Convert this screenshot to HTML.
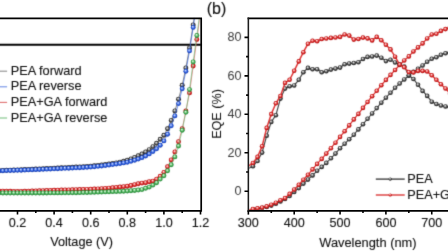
<!DOCTYPE html><html><head><meta charset="utf-8"><style>html,body{margin:0;padding:0;background:#fff;}svg{display:block;}text{font-family:"Liberation Sans",Arial,sans-serif;fill:#111;stroke:#111;stroke-width:0.12px;}</style></head><body><svg width="448" height="252" viewBox="0 0 448 252"><defs><radialGradient id="gk" cx="0.5" cy="0.5" r="0.5" fx="0.40" fy="0.32"><stop offset="0" stop-color="#ffffff"/><stop offset="0.25" stop-color="#bdbdbd"/><stop offset="0.62" stop-color="#4a4a4a"/><stop offset="1" stop-color="#181818"/></radialGradient><radialGradient id="gb" cx="0.5" cy="0.5" r="0.5" fx="0.40" fy="0.32"><stop offset="0" stop-color="#f6f8ff"/><stop offset="0.25" stop-color="#9ab4f6"/><stop offset="0.62" stop-color="#2c5ee0"/><stop offset="1" stop-color="#1236aa"/></radialGradient><radialGradient id="gr" cx="0.5" cy="0.5" r="0.5" fx="0.40" fy="0.32"><stop offset="0" stop-color="#fff6f6"/><stop offset="0.25" stop-color="#f5aaaa"/><stop offset="0.62" stop-color="#dc2828"/><stop offset="1" stop-color="#a80a0a"/></radialGradient><radialGradient id="gg" cx="0.5" cy="0.5" r="0.5" fx="0.40" fy="0.32"><stop offset="0" stop-color="#f6fff6"/><stop offset="0.25" stop-color="#b8e4bc"/><stop offset="0.62" stop-color="#44b054"/><stop offset="1" stop-color="#217c32"/></radialGradient><clipPath id="ca"><rect x="-30" y="18.2" width="231" height="192.2"/></clipPath><clipPath id="cb"><rect x="248.3" y="18.2" width="230" height="192.2"/></clipPath><filter id="soft" x="0" y="0" width="448" height="252" filterUnits="userSpaceOnUse" color-interpolation-filters="sRGB"><feConvolveMatrix order="3" kernelMatrix="1 6 1 6 36 6 1 6 1" divisor="64" edgeMode="duplicate"/></filter></defs><g filter="url(#soft)"><rect width="448" height="252" fill="#fff"/><path d="M-5,44.75 H201.2" stroke="#000" stroke-width="1.90"/><g clip-path="url(#ca)"><path d="M-19.10,171.00 L-15.44,170.91 L-11.78,170.82 L-8.12,170.72 L-4.46,170.61 L-0.80,170.50 L2.86,170.38 L6.52,170.25 L10.18,170.12 L13.84,169.98 L17.50,169.84 L21.16,169.69 L24.82,169.53 L28.48,169.38 L32.14,169.21 L35.80,169.05 L39.46,168.88 L43.12,168.71 L46.78,168.53 L50.44,168.35 L54.10,168.17 L57.76,167.99 L61.42,167.81 L65.08,167.63 L68.74,167.45 L72.40,167.26 L76.06,167.06 L79.72,166.85 L83.38,166.62 L87.04,166.38 L90.70,166.10 L94.36,165.78 L98.02,165.40 L101.68,164.98 L105.34,164.51 L109.00,164.00 L112.66,163.45 L116.32,162.84 L119.98,162.13 L123.64,161.30 L127.30,160.24 L130.96,158.93 L134.62,157.43 L138.28,155.80 L141.94,154.01 L145.60,151.96 L149.26,149.60 L152.92,146.60 L156.58,143.30 L160.24,139.30 L163.90,135.30 L167.56,128.80 L171.22,120.40 L174.88,110.90 L178.54,99.20 L182.20,85.30 L185.86,67.90 L189.52,47.90 L193.18,24.90 L196.84,-1.00 L200.50,-28.00" fill="none" stroke="#555555" stroke-width="0.7"/><circle cx="-19.10" cy="171.00" r="2.45" fill="url(#gk)"/><circle cx="-15.44" cy="170.91" r="2.45" fill="url(#gk)"/><circle cx="-11.78" cy="170.82" r="2.45" fill="url(#gk)"/><circle cx="-8.12" cy="170.72" r="2.45" fill="url(#gk)"/><circle cx="-4.46" cy="170.61" r="2.45" fill="url(#gk)"/><circle cx="-0.80" cy="170.50" r="2.45" fill="url(#gk)"/><circle cx="2.86" cy="170.38" r="2.45" fill="url(#gk)"/><circle cx="6.52" cy="170.25" r="2.45" fill="url(#gk)"/><circle cx="10.18" cy="170.12" r="2.45" fill="url(#gk)"/><circle cx="13.84" cy="169.98" r="2.45" fill="url(#gk)"/><circle cx="17.50" cy="169.84" r="2.45" fill="url(#gk)"/><circle cx="21.16" cy="169.69" r="2.45" fill="url(#gk)"/><circle cx="24.82" cy="169.53" r="2.45" fill="url(#gk)"/><circle cx="28.48" cy="169.38" r="2.45" fill="url(#gk)"/><circle cx="32.14" cy="169.21" r="2.45" fill="url(#gk)"/><circle cx="35.80" cy="169.05" r="2.45" fill="url(#gk)"/><circle cx="39.46" cy="168.88" r="2.45" fill="url(#gk)"/><circle cx="43.12" cy="168.71" r="2.45" fill="url(#gk)"/><circle cx="46.78" cy="168.53" r="2.45" fill="url(#gk)"/><circle cx="50.44" cy="168.35" r="2.45" fill="url(#gk)"/><circle cx="54.10" cy="168.17" r="2.45" fill="url(#gk)"/><circle cx="57.76" cy="167.99" r="2.45" fill="url(#gk)"/><circle cx="61.42" cy="167.81" r="2.45" fill="url(#gk)"/><circle cx="65.08" cy="167.63" r="2.45" fill="url(#gk)"/><circle cx="68.74" cy="167.45" r="2.45" fill="url(#gk)"/><circle cx="72.40" cy="167.26" r="2.45" fill="url(#gk)"/><circle cx="76.06" cy="167.06" r="2.45" fill="url(#gk)"/><circle cx="79.72" cy="166.85" r="2.45" fill="url(#gk)"/><circle cx="83.38" cy="166.62" r="2.45" fill="url(#gk)"/><circle cx="87.04" cy="166.38" r="2.45" fill="url(#gk)"/><circle cx="90.70" cy="166.10" r="2.45" fill="url(#gk)"/><circle cx="94.36" cy="165.78" r="2.45" fill="url(#gk)"/><circle cx="98.02" cy="165.40" r="2.45" fill="url(#gk)"/><circle cx="101.68" cy="164.98" r="2.45" fill="url(#gk)"/><circle cx="105.34" cy="164.51" r="2.45" fill="url(#gk)"/><circle cx="109.00" cy="164.00" r="2.45" fill="url(#gk)"/><circle cx="112.66" cy="163.45" r="2.45" fill="url(#gk)"/><circle cx="116.32" cy="162.84" r="2.45" fill="url(#gk)"/><circle cx="119.98" cy="162.13" r="2.45" fill="url(#gk)"/><circle cx="123.64" cy="161.30" r="2.45" fill="url(#gk)"/><circle cx="127.30" cy="160.24" r="2.45" fill="url(#gk)"/><circle cx="130.96" cy="158.93" r="2.45" fill="url(#gk)"/><circle cx="134.62" cy="157.43" r="2.45" fill="url(#gk)"/><circle cx="138.28" cy="155.80" r="2.45" fill="url(#gk)"/><circle cx="141.94" cy="154.01" r="2.45" fill="url(#gk)"/><circle cx="145.60" cy="151.96" r="2.45" fill="url(#gk)"/><circle cx="149.26" cy="149.60" r="2.45" fill="url(#gk)"/><circle cx="152.92" cy="146.60" r="2.45" fill="url(#gk)"/><circle cx="156.58" cy="143.30" r="2.45" fill="url(#gk)"/><circle cx="160.24" cy="139.30" r="2.45" fill="url(#gk)"/><circle cx="163.90" cy="135.30" r="2.45" fill="url(#gk)"/><circle cx="167.56" cy="128.80" r="2.45" fill="url(#gk)"/><circle cx="171.22" cy="120.40" r="2.45" fill="url(#gk)"/><circle cx="174.88" cy="110.90" r="2.45" fill="url(#gk)"/><circle cx="178.54" cy="99.20" r="2.45" fill="url(#gk)"/><circle cx="182.20" cy="85.30" r="2.45" fill="url(#gk)"/><circle cx="185.86" cy="67.90" r="2.45" fill="url(#gk)"/><circle cx="189.52" cy="47.90" r="2.45" fill="url(#gk)"/><circle cx="193.18" cy="24.90" r="2.45" fill="url(#gk)"/><circle cx="196.84" cy="-1.00" r="2.45" fill="url(#gk)"/><circle cx="200.50" cy="-28.00" r="2.45" fill="url(#gk)"/><path d="M-19.10,171.20 L-15.44,171.13 L-11.78,171.05 L-8.12,170.97 L-4.46,170.89 L-0.80,170.80 L2.86,170.71 L6.52,170.62 L10.18,170.52 L13.84,170.41 L17.50,170.30 L21.16,170.18 L24.82,170.05 L28.48,169.92 L32.14,169.78 L35.80,169.63 L39.46,169.48 L43.12,169.33 L46.78,169.17 L50.44,169.01 L54.10,168.85 L57.76,168.68 L61.42,168.52 L65.08,168.36 L68.74,168.20 L72.40,168.03 L76.06,167.86 L79.72,167.68 L83.38,167.47 L87.04,167.25 L90.70,167.00 L94.36,166.70 L98.02,166.34 L101.68,165.94 L105.34,165.49 L109.00,165.01 L112.66,164.51 L116.32,164.00 L119.98,163.48 L123.64,162.89 L127.30,162.20 L130.96,161.31 L134.62,160.22 L138.28,159.00 L141.94,157.63 L145.60,156.00 L149.26,153.92 L152.92,151.50 L156.58,148.80 L160.24,145.20 L163.90,140.90 L167.56,134.20 L171.22,125.80 L174.88,115.90 L178.54,103.60 L182.20,88.80 L185.86,71.20 L189.52,50.90 L193.18,27.40 L196.84,2.00 L200.50,-25.00" fill="none" stroke="#3a66dd" stroke-width="0.7"/><circle cx="-19.10" cy="171.20" r="2.45" fill="url(#gb)"/><circle cx="-15.44" cy="171.13" r="2.45" fill="url(#gb)"/><circle cx="-11.78" cy="171.05" r="2.45" fill="url(#gb)"/><circle cx="-8.12" cy="170.97" r="2.45" fill="url(#gb)"/><circle cx="-4.46" cy="170.89" r="2.45" fill="url(#gb)"/><circle cx="-0.80" cy="170.80" r="2.45" fill="url(#gb)"/><circle cx="2.86" cy="170.71" r="2.45" fill="url(#gb)"/><circle cx="6.52" cy="170.62" r="2.45" fill="url(#gb)"/><circle cx="10.18" cy="170.52" r="2.45" fill="url(#gb)"/><circle cx="13.84" cy="170.41" r="2.45" fill="url(#gb)"/><circle cx="17.50" cy="170.30" r="2.45" fill="url(#gb)"/><circle cx="21.16" cy="170.18" r="2.45" fill="url(#gb)"/><circle cx="24.82" cy="170.05" r="2.45" fill="url(#gb)"/><circle cx="28.48" cy="169.92" r="2.45" fill="url(#gb)"/><circle cx="32.14" cy="169.78" r="2.45" fill="url(#gb)"/><circle cx="35.80" cy="169.63" r="2.45" fill="url(#gb)"/><circle cx="39.46" cy="169.48" r="2.45" fill="url(#gb)"/><circle cx="43.12" cy="169.33" r="2.45" fill="url(#gb)"/><circle cx="46.78" cy="169.17" r="2.45" fill="url(#gb)"/><circle cx="50.44" cy="169.01" r="2.45" fill="url(#gb)"/><circle cx="54.10" cy="168.85" r="2.45" fill="url(#gb)"/><circle cx="57.76" cy="168.68" r="2.45" fill="url(#gb)"/><circle cx="61.42" cy="168.52" r="2.45" fill="url(#gb)"/><circle cx="65.08" cy="168.36" r="2.45" fill="url(#gb)"/><circle cx="68.74" cy="168.20" r="2.45" fill="url(#gb)"/><circle cx="72.40" cy="168.03" r="2.45" fill="url(#gb)"/><circle cx="76.06" cy="167.86" r="2.45" fill="url(#gb)"/><circle cx="79.72" cy="167.68" r="2.45" fill="url(#gb)"/><circle cx="83.38" cy="167.47" r="2.45" fill="url(#gb)"/><circle cx="87.04" cy="167.25" r="2.45" fill="url(#gb)"/><circle cx="90.70" cy="167.00" r="2.45" fill="url(#gb)"/><circle cx="94.36" cy="166.70" r="2.45" fill="url(#gb)"/><circle cx="98.02" cy="166.34" r="2.45" fill="url(#gb)"/><circle cx="101.68" cy="165.94" r="2.45" fill="url(#gb)"/><circle cx="105.34" cy="165.49" r="2.45" fill="url(#gb)"/><circle cx="109.00" cy="165.01" r="2.45" fill="url(#gb)"/><circle cx="112.66" cy="164.51" r="2.45" fill="url(#gb)"/><circle cx="116.32" cy="164.00" r="2.45" fill="url(#gb)"/><circle cx="119.98" cy="163.48" r="2.45" fill="url(#gb)"/><circle cx="123.64" cy="162.89" r="2.45" fill="url(#gb)"/><circle cx="127.30" cy="162.20" r="2.45" fill="url(#gb)"/><circle cx="130.96" cy="161.31" r="2.45" fill="url(#gb)"/><circle cx="134.62" cy="160.22" r="2.45" fill="url(#gb)"/><circle cx="138.28" cy="159.00" r="2.45" fill="url(#gb)"/><circle cx="141.94" cy="157.63" r="2.45" fill="url(#gb)"/><circle cx="145.60" cy="156.00" r="2.45" fill="url(#gb)"/><circle cx="149.26" cy="153.92" r="2.45" fill="url(#gb)"/><circle cx="152.92" cy="151.50" r="2.45" fill="url(#gb)"/><circle cx="156.58" cy="148.80" r="2.45" fill="url(#gb)"/><circle cx="160.24" cy="145.20" r="2.45" fill="url(#gb)"/><circle cx="163.90" cy="140.90" r="2.45" fill="url(#gb)"/><circle cx="167.56" cy="134.20" r="2.45" fill="url(#gb)"/><circle cx="171.22" cy="125.80" r="2.45" fill="url(#gb)"/><circle cx="174.88" cy="115.90" r="2.45" fill="url(#gb)"/><circle cx="178.54" cy="103.60" r="2.45" fill="url(#gb)"/><circle cx="182.20" cy="88.80" r="2.45" fill="url(#gb)"/><circle cx="185.86" cy="71.20" r="2.45" fill="url(#gb)"/><circle cx="189.52" cy="50.90" r="2.45" fill="url(#gb)"/><circle cx="193.18" cy="27.40" r="2.45" fill="url(#gb)"/><circle cx="196.84" cy="2.00" r="2.45" fill="url(#gb)"/><circle cx="200.50" cy="-25.00" r="2.45" fill="url(#gb)"/><path d="M-19.10,191.10 L-15.44,191.10 L-11.78,191.10 L-8.12,191.10 L-4.46,191.10 L-0.80,191.10 L2.86,191.13 L6.52,191.21 L10.18,191.29 L13.84,191.37 L17.50,191.40 L21.16,191.37 L24.82,191.28 L28.48,191.16 L32.14,191.02 L35.80,190.90 L39.46,190.79 L43.12,190.66 L46.78,190.54 L50.44,190.41 L54.10,190.28 L57.76,190.16 L61.42,190.04 L65.08,189.94 L68.74,189.85 L72.40,189.76 L76.06,189.67 L79.72,189.57 L83.38,189.47 L87.04,189.34 L90.70,189.20 L94.36,189.03 L98.02,188.84 L101.68,188.62 L105.34,188.36 L109.00,188.08 L112.66,187.77 L116.32,187.43 L119.98,187.05 L123.64,186.64 L127.30,186.20 L130.96,185.55 L134.62,184.67 L138.28,183.78 L141.94,183.10 L145.60,182.70 L149.26,181.70 L152.92,181.10 L156.58,179.10 L160.24,176.30 L163.90,172.40 L167.56,166.80 L171.22,159.90 L174.88,151.90 L178.54,141.70 L182.20,128.80 L185.86,111.00 L189.52,92.90 L193.18,66.00 L196.84,39.50 L200.50,12.00" fill="none" stroke="#e06060" stroke-width="0.7"/><circle cx="-19.10" cy="191.10" r="2.45" fill="url(#gr)"/><circle cx="-15.44" cy="191.10" r="2.45" fill="url(#gr)"/><circle cx="-11.78" cy="191.10" r="2.45" fill="url(#gr)"/><circle cx="-8.12" cy="191.10" r="2.45" fill="url(#gr)"/><circle cx="-4.46" cy="191.10" r="2.45" fill="url(#gr)"/><circle cx="-0.80" cy="191.10" r="2.45" fill="url(#gr)"/><circle cx="2.86" cy="191.13" r="2.45" fill="url(#gr)"/><circle cx="6.52" cy="191.21" r="2.45" fill="url(#gr)"/><circle cx="10.18" cy="191.29" r="2.45" fill="url(#gr)"/><circle cx="13.84" cy="191.37" r="2.45" fill="url(#gr)"/><circle cx="17.50" cy="191.40" r="2.45" fill="url(#gr)"/><circle cx="21.16" cy="191.37" r="2.45" fill="url(#gr)"/><circle cx="24.82" cy="191.28" r="2.45" fill="url(#gr)"/><circle cx="28.48" cy="191.16" r="2.45" fill="url(#gr)"/><circle cx="32.14" cy="191.02" r="2.45" fill="url(#gr)"/><circle cx="35.80" cy="190.90" r="2.45" fill="url(#gr)"/><circle cx="39.46" cy="190.79" r="2.45" fill="url(#gr)"/><circle cx="43.12" cy="190.66" r="2.45" fill="url(#gr)"/><circle cx="46.78" cy="190.54" r="2.45" fill="url(#gr)"/><circle cx="50.44" cy="190.41" r="2.45" fill="url(#gr)"/><circle cx="54.10" cy="190.28" r="2.45" fill="url(#gr)"/><circle cx="57.76" cy="190.16" r="2.45" fill="url(#gr)"/><circle cx="61.42" cy="190.04" r="2.45" fill="url(#gr)"/><circle cx="65.08" cy="189.94" r="2.45" fill="url(#gr)"/><circle cx="68.74" cy="189.85" r="2.45" fill="url(#gr)"/><circle cx="72.40" cy="189.76" r="2.45" fill="url(#gr)"/><circle cx="76.06" cy="189.67" r="2.45" fill="url(#gr)"/><circle cx="79.72" cy="189.57" r="2.45" fill="url(#gr)"/><circle cx="83.38" cy="189.47" r="2.45" fill="url(#gr)"/><circle cx="87.04" cy="189.34" r="2.45" fill="url(#gr)"/><circle cx="90.70" cy="189.20" r="2.45" fill="url(#gr)"/><circle cx="94.36" cy="189.03" r="2.45" fill="url(#gr)"/><circle cx="98.02" cy="188.84" r="2.45" fill="url(#gr)"/><circle cx="101.68" cy="188.62" r="2.45" fill="url(#gr)"/><circle cx="105.34" cy="188.36" r="2.45" fill="url(#gr)"/><circle cx="109.00" cy="188.08" r="2.45" fill="url(#gr)"/><circle cx="112.66" cy="187.77" r="2.45" fill="url(#gr)"/><circle cx="116.32" cy="187.43" r="2.45" fill="url(#gr)"/><circle cx="119.98" cy="187.05" r="2.45" fill="url(#gr)"/><circle cx="123.64" cy="186.64" r="2.45" fill="url(#gr)"/><circle cx="127.30" cy="186.20" r="2.45" fill="url(#gr)"/><circle cx="130.96" cy="185.55" r="2.45" fill="url(#gr)"/><circle cx="134.62" cy="184.67" r="2.45" fill="url(#gr)"/><circle cx="138.28" cy="183.78" r="2.45" fill="url(#gr)"/><circle cx="141.94" cy="183.10" r="2.45" fill="url(#gr)"/><circle cx="145.60" cy="182.70" r="2.45" fill="url(#gr)"/><circle cx="149.26" cy="181.70" r="2.45" fill="url(#gr)"/><circle cx="152.92" cy="181.10" r="2.45" fill="url(#gr)"/><circle cx="156.58" cy="179.10" r="2.45" fill="url(#gr)"/><circle cx="160.24" cy="176.30" r="2.45" fill="url(#gr)"/><circle cx="163.90" cy="172.40" r="2.45" fill="url(#gr)"/><circle cx="167.56" cy="166.80" r="2.45" fill="url(#gr)"/><circle cx="171.22" cy="159.90" r="2.45" fill="url(#gr)"/><circle cx="174.88" cy="151.90" r="2.45" fill="url(#gr)"/><circle cx="178.54" cy="141.70" r="2.45" fill="url(#gr)"/><circle cx="182.20" cy="128.80" r="2.45" fill="url(#gr)"/><circle cx="185.86" cy="111.00" r="2.45" fill="url(#gr)"/><circle cx="189.52" cy="92.90" r="2.45" fill="url(#gr)"/><circle cx="193.18" cy="66.00" r="2.45" fill="url(#gr)"/><circle cx="196.84" cy="39.50" r="2.45" fill="url(#gr)"/><circle cx="200.50" cy="12.00" r="2.45" fill="url(#gr)"/><path d="M-19.10,193.10 L-15.44,193.08 L-11.78,193.05 L-8.12,193.03 L-4.46,193.01 L-0.80,193.00 L2.86,192.99 L6.52,192.98 L10.18,192.98 L13.84,192.97 L17.50,192.97 L21.16,192.96 L24.82,192.96 L28.48,192.95 L32.14,192.95 L35.80,192.95 L39.46,192.94 L43.12,192.94 L46.78,192.93 L50.44,192.92 L54.10,192.92 L57.76,192.91 L61.42,192.89 L65.08,192.87 L68.74,192.83 L72.40,192.78 L76.06,192.72 L79.72,192.65 L83.38,192.57 L87.04,192.48 L90.70,192.38 L94.36,192.27 L98.02,192.16 L101.68,192.05 L105.34,191.92 L109.00,191.80 L112.66,191.67 L116.32,191.54 L119.98,191.40 L123.64,191.22 L127.30,191.01 L130.96,190.76 L134.62,190.44 L138.28,190.06 L141.94,189.60 L145.60,188.30 L149.26,187.10 L152.92,185.10 L156.58,182.70 L160.24,179.10 L163.90,175.80 L167.56,170.80 L171.22,164.80 L174.88,156.90 L178.54,146.00 L182.20,130.20 L185.86,112.30 L189.52,89.60 L193.18,61.90 L196.84,35.50 L200.50,9.00" fill="none" stroke="#6cbc78" stroke-width="0.7"/><circle cx="-19.10" cy="193.10" r="2.45" fill="url(#gg)"/><circle cx="-15.44" cy="193.08" r="2.45" fill="url(#gg)"/><circle cx="-11.78" cy="193.05" r="2.45" fill="url(#gg)"/><circle cx="-8.12" cy="193.03" r="2.45" fill="url(#gg)"/><circle cx="-4.46" cy="193.01" r="2.45" fill="url(#gg)"/><circle cx="-0.80" cy="193.00" r="2.45" fill="url(#gg)"/><circle cx="2.86" cy="192.99" r="2.45" fill="url(#gg)"/><circle cx="6.52" cy="192.98" r="2.45" fill="url(#gg)"/><circle cx="10.18" cy="192.98" r="2.45" fill="url(#gg)"/><circle cx="13.84" cy="192.97" r="2.45" fill="url(#gg)"/><circle cx="17.50" cy="192.97" r="2.45" fill="url(#gg)"/><circle cx="21.16" cy="192.96" r="2.45" fill="url(#gg)"/><circle cx="24.82" cy="192.96" r="2.45" fill="url(#gg)"/><circle cx="28.48" cy="192.95" r="2.45" fill="url(#gg)"/><circle cx="32.14" cy="192.95" r="2.45" fill="url(#gg)"/><circle cx="35.80" cy="192.95" r="2.45" fill="url(#gg)"/><circle cx="39.46" cy="192.94" r="2.45" fill="url(#gg)"/><circle cx="43.12" cy="192.94" r="2.45" fill="url(#gg)"/><circle cx="46.78" cy="192.93" r="2.45" fill="url(#gg)"/><circle cx="50.44" cy="192.92" r="2.45" fill="url(#gg)"/><circle cx="54.10" cy="192.92" r="2.45" fill="url(#gg)"/><circle cx="57.76" cy="192.91" r="2.45" fill="url(#gg)"/><circle cx="61.42" cy="192.89" r="2.45" fill="url(#gg)"/><circle cx="65.08" cy="192.87" r="2.45" fill="url(#gg)"/><circle cx="68.74" cy="192.83" r="2.45" fill="url(#gg)"/><circle cx="72.40" cy="192.78" r="2.45" fill="url(#gg)"/><circle cx="76.06" cy="192.72" r="2.45" fill="url(#gg)"/><circle cx="79.72" cy="192.65" r="2.45" fill="url(#gg)"/><circle cx="83.38" cy="192.57" r="2.45" fill="url(#gg)"/><circle cx="87.04" cy="192.48" r="2.45" fill="url(#gg)"/><circle cx="90.70" cy="192.38" r="2.45" fill="url(#gg)"/><circle cx="94.36" cy="192.27" r="2.45" fill="url(#gg)"/><circle cx="98.02" cy="192.16" r="2.45" fill="url(#gg)"/><circle cx="101.68" cy="192.05" r="2.45" fill="url(#gg)"/><circle cx="105.34" cy="191.92" r="2.45" fill="url(#gg)"/><circle cx="109.00" cy="191.80" r="2.45" fill="url(#gg)"/><circle cx="112.66" cy="191.67" r="2.45" fill="url(#gg)"/><circle cx="116.32" cy="191.54" r="2.45" fill="url(#gg)"/><circle cx="119.98" cy="191.40" r="2.45" fill="url(#gg)"/><circle cx="123.64" cy="191.22" r="2.45" fill="url(#gg)"/><circle cx="127.30" cy="191.01" r="2.45" fill="url(#gg)"/><circle cx="130.96" cy="190.76" r="2.45" fill="url(#gg)"/><circle cx="134.62" cy="190.44" r="2.45" fill="url(#gg)"/><circle cx="138.28" cy="190.06" r="2.45" fill="url(#gg)"/><circle cx="141.94" cy="189.60" r="2.45" fill="url(#gg)"/><circle cx="145.60" cy="188.30" r="2.45" fill="url(#gg)"/><circle cx="149.26" cy="187.10" r="2.45" fill="url(#gg)"/><circle cx="152.92" cy="185.10" r="2.45" fill="url(#gg)"/><circle cx="156.58" cy="182.70" r="2.45" fill="url(#gg)"/><circle cx="160.24" cy="179.10" r="2.45" fill="url(#gg)"/><circle cx="163.90" cy="175.80" r="2.45" fill="url(#gg)"/><circle cx="167.56" cy="170.80" r="2.45" fill="url(#gg)"/><circle cx="171.22" cy="164.80" r="2.45" fill="url(#gg)"/><circle cx="174.88" cy="156.90" r="2.45" fill="url(#gg)"/><circle cx="178.54" cy="146.00" r="2.45" fill="url(#gg)"/><circle cx="182.20" cy="130.20" r="2.45" fill="url(#gg)"/><circle cx="185.86" cy="112.30" r="2.45" fill="url(#gg)"/><circle cx="189.52" cy="89.60" r="2.45" fill="url(#gg)"/><circle cx="193.18" cy="61.90" r="2.45" fill="url(#gg)"/><circle cx="196.84" cy="35.50" r="2.45" fill="url(#gg)"/><circle cx="200.50" cy="9.00" r="2.45" fill="url(#gg)"/></g><text x="17.50" y="226.6" font-size="12.6" text-anchor="middle">0.2</text><text x="54.10" y="226.6" font-size="12.6" text-anchor="middle">0.4</text><text x="90.70" y="226.6" font-size="12.6" text-anchor="middle">0.6</text><text x="127.30" y="226.6" font-size="12.6" text-anchor="middle">0.8</text><text x="163.90" y="226.6" font-size="12.6" text-anchor="middle">1.0</text><text x="200.50" y="226.6" font-size="12.6" text-anchor="middle">1.2</text><text x="81.6" y="246.2" font-size="12.7" text-anchor="middle">Voltage (V)</text><path d="M-10,71.2 H7.1" stroke="#8c8c8c" stroke-width="1.1"/><text x="10.7" y="74.8" font-size="12.75">PEA forward</text><path d="M-10,86.8 H7.1" stroke="#6f8fe6" stroke-width="1.1"/><text x="10.7" y="90.4" font-size="12.75">PEA reverse</text><path d="M-10,102.4 H7.1" stroke="#e07070" stroke-width="1.1"/><text x="10.7" y="106.0" font-size="12.75">PEA+GA forward</text><path d="M-10,118.0 H7.1" stroke="#7cc486" stroke-width="1.1"/><text x="10.7" y="121.6" font-size="12.75">PEA+GA reverse</text><g clip-path="url(#cb)"><path d="M248.35,210.80 L252.94,209.60 L257.52,208.80 L262.11,208.00 L266.69,207.00 L271.27,205.60 L275.86,203.80 L280.44,201.50 L285.03,199.00 L289.62,196.00 L294.20,192.00 L298.78,188.10 L303.37,183.60 L307.95,179.60 L312.54,175.40 L317.12,170.80 L321.71,166.90 L326.30,162.90 L330.88,158.30 L335.47,153.60 L340.05,148.20 L344.63,143.70 L349.22,139.30 L353.81,134.70 L358.39,129.40 L362.98,124.20 L367.56,118.80 L372.14,113.50 L376.73,108.10 L381.31,102.70 L385.90,97.70 L390.49,92.80 L395.07,87.80 L399.65,83.50 L404.24,79.50 L408.82,75.80 L413.41,71.90 L418.00,68.80 L422.58,65.50 L427.16,61.80 L431.75,58.80 L436.34,57.30 L440.92,54.80 L445.50,53.30 L450.09,52.00 L454.68,51.00 L459.26,50.30 L463.85,49.80 L468.43,49.50 L473.01,49.30 L477.60,49.20" fill="none" stroke="#4a4a4a" stroke-width="1.10"/><circle cx="252.94" cy="209.60" r="2.30" fill="url(#gk)"/><circle cx="257.52" cy="208.80" r="2.30" fill="url(#gk)"/><circle cx="262.11" cy="208.00" r="2.30" fill="url(#gk)"/><circle cx="266.69" cy="207.00" r="2.30" fill="url(#gk)"/><circle cx="271.27" cy="205.60" r="2.30" fill="url(#gk)"/><circle cx="275.86" cy="203.80" r="2.30" fill="url(#gk)"/><circle cx="280.44" cy="201.50" r="2.30" fill="url(#gk)"/><circle cx="285.03" cy="199.00" r="2.30" fill="url(#gk)"/><circle cx="289.62" cy="196.00" r="2.30" fill="url(#gk)"/><circle cx="294.20" cy="192.00" r="2.30" fill="url(#gk)"/><circle cx="298.78" cy="188.10" r="2.30" fill="url(#gk)"/><circle cx="303.37" cy="183.60" r="2.30" fill="url(#gk)"/><circle cx="307.95" cy="179.60" r="2.30" fill="url(#gk)"/><circle cx="312.54" cy="175.40" r="2.30" fill="url(#gk)"/><circle cx="317.12" cy="170.80" r="2.30" fill="url(#gk)"/><circle cx="321.71" cy="166.90" r="2.30" fill="url(#gk)"/><circle cx="326.30" cy="162.90" r="2.30" fill="url(#gk)"/><circle cx="330.88" cy="158.30" r="2.30" fill="url(#gk)"/><circle cx="335.47" cy="153.60" r="2.30" fill="url(#gk)"/><circle cx="340.05" cy="148.20" r="2.30" fill="url(#gk)"/><circle cx="344.63" cy="143.70" r="2.30" fill="url(#gk)"/><circle cx="349.22" cy="139.30" r="2.30" fill="url(#gk)"/><circle cx="353.81" cy="134.70" r="2.30" fill="url(#gk)"/><circle cx="358.39" cy="129.40" r="2.30" fill="url(#gk)"/><circle cx="362.98" cy="124.20" r="2.30" fill="url(#gk)"/><circle cx="367.56" cy="118.80" r="2.30" fill="url(#gk)"/><circle cx="372.14" cy="113.50" r="2.30" fill="url(#gk)"/><circle cx="376.73" cy="108.10" r="2.30" fill="url(#gk)"/><circle cx="381.31" cy="102.70" r="2.30" fill="url(#gk)"/><circle cx="385.90" cy="97.70" r="2.30" fill="url(#gk)"/><circle cx="390.49" cy="92.80" r="2.30" fill="url(#gk)"/><circle cx="395.07" cy="87.80" r="2.30" fill="url(#gk)"/><circle cx="399.65" cy="83.50" r="2.30" fill="url(#gk)"/><circle cx="404.24" cy="79.50" r="2.30" fill="url(#gk)"/><circle cx="408.82" cy="75.80" r="2.30" fill="url(#gk)"/><circle cx="413.41" cy="71.90" r="2.30" fill="url(#gk)"/><circle cx="418.00" cy="68.80" r="2.30" fill="url(#gk)"/><circle cx="422.58" cy="65.50" r="2.30" fill="url(#gk)"/><circle cx="427.16" cy="61.80" r="2.30" fill="url(#gk)"/><circle cx="431.75" cy="58.80" r="2.30" fill="url(#gk)"/><circle cx="436.34" cy="57.30" r="2.30" fill="url(#gk)"/><circle cx="440.92" cy="54.80" r="2.30" fill="url(#gk)"/><circle cx="445.50" cy="53.30" r="2.30" fill="url(#gk)"/><circle cx="450.09" cy="52.00" r="2.30" fill="url(#gk)"/><circle cx="454.68" cy="51.00" r="2.30" fill="url(#gk)"/><circle cx="459.26" cy="50.30" r="2.30" fill="url(#gk)"/><circle cx="463.85" cy="49.80" r="2.30" fill="url(#gk)"/><circle cx="468.43" cy="49.50" r="2.30" fill="url(#gk)"/><circle cx="473.01" cy="49.30" r="2.30" fill="url(#gk)"/><circle cx="477.60" cy="49.20" r="2.30" fill="url(#gk)"/><path d="M248.35,210.20 L252.94,209.00 L257.52,208.20 L262.11,207.60 L266.69,206.40 L271.27,204.70 L275.86,202.70 L280.44,200.20 L285.03,198.10 L289.62,193.90 L294.20,189.60 L298.78,184.80 L303.37,179.70 L307.95,174.80 L312.54,169.40 L317.12,163.90 L321.71,158.90 L326.30,153.60 L330.88,148.20 L335.47,142.70 L340.05,136.90 L344.63,131.30 L349.22,125.40 L353.81,119.40 L358.39,113.90 L362.98,107.90 L367.56,102.00 L372.14,96.20 L376.73,90.80 L381.31,85.20 L385.90,79.90 L390.49,74.90 L395.07,70.00 L399.65,65.00 L404.24,60.50 L408.82,56.40 L413.41,51.50 L418.00,47.40 L422.58,43.40 L427.16,38.50 L431.75,34.50 L436.34,33.80 L440.92,30.90 L445.50,29.10 L450.09,27.20 L454.68,25.50 L459.26,24.50 L463.85,22.80 L468.43,22.30 L473.01,22.00 L477.60,21.80" fill="none" stroke="#e03a3a" stroke-width="1.30"/><circle cx="252.94" cy="209.00" r="2.30" fill="url(#gr)"/><circle cx="257.52" cy="208.20" r="2.30" fill="url(#gr)"/><circle cx="262.11" cy="207.60" r="2.30" fill="url(#gr)"/><circle cx="266.69" cy="206.40" r="2.30" fill="url(#gr)"/><circle cx="271.27" cy="204.70" r="2.30" fill="url(#gr)"/><circle cx="275.86" cy="202.70" r="2.30" fill="url(#gr)"/><circle cx="280.44" cy="200.20" r="2.30" fill="url(#gr)"/><circle cx="285.03" cy="198.10" r="2.30" fill="url(#gr)"/><circle cx="289.62" cy="193.90" r="2.30" fill="url(#gr)"/><circle cx="294.20" cy="189.60" r="2.30" fill="url(#gr)"/><circle cx="298.78" cy="184.80" r="2.30" fill="url(#gr)"/><circle cx="303.37" cy="179.70" r="2.30" fill="url(#gr)"/><circle cx="307.95" cy="174.80" r="2.30" fill="url(#gr)"/><circle cx="312.54" cy="169.40" r="2.30" fill="url(#gr)"/><circle cx="317.12" cy="163.90" r="2.30" fill="url(#gr)"/><circle cx="321.71" cy="158.90" r="2.30" fill="url(#gr)"/><circle cx="326.30" cy="153.60" r="2.30" fill="url(#gr)"/><circle cx="330.88" cy="148.20" r="2.30" fill="url(#gr)"/><circle cx="335.47" cy="142.70" r="2.30" fill="url(#gr)"/><circle cx="340.05" cy="136.90" r="2.30" fill="url(#gr)"/><circle cx="344.63" cy="131.30" r="2.30" fill="url(#gr)"/><circle cx="349.22" cy="125.40" r="2.30" fill="url(#gr)"/><circle cx="353.81" cy="119.40" r="2.30" fill="url(#gr)"/><circle cx="358.39" cy="113.90" r="2.30" fill="url(#gr)"/><circle cx="362.98" cy="107.90" r="2.30" fill="url(#gr)"/><circle cx="367.56" cy="102.00" r="2.30" fill="url(#gr)"/><circle cx="372.14" cy="96.20" r="2.30" fill="url(#gr)"/><circle cx="376.73" cy="90.80" r="2.30" fill="url(#gr)"/><circle cx="381.31" cy="85.20" r="2.30" fill="url(#gr)"/><circle cx="385.90" cy="79.90" r="2.30" fill="url(#gr)"/><circle cx="390.49" cy="74.90" r="2.30" fill="url(#gr)"/><circle cx="395.07" cy="70.00" r="2.30" fill="url(#gr)"/><circle cx="399.65" cy="65.00" r="2.30" fill="url(#gr)"/><circle cx="404.24" cy="60.50" r="2.30" fill="url(#gr)"/><circle cx="408.82" cy="56.40" r="2.30" fill="url(#gr)"/><circle cx="413.41" cy="51.50" r="2.30" fill="url(#gr)"/><circle cx="418.00" cy="47.40" r="2.30" fill="url(#gr)"/><circle cx="422.58" cy="43.40" r="2.30" fill="url(#gr)"/><circle cx="427.16" cy="38.50" r="2.30" fill="url(#gr)"/><circle cx="431.75" cy="34.50" r="2.30" fill="url(#gr)"/><circle cx="436.34" cy="33.80" r="2.30" fill="url(#gr)"/><circle cx="440.92" cy="30.90" r="2.30" fill="url(#gr)"/><circle cx="445.50" cy="29.10" r="2.30" fill="url(#gr)"/><circle cx="450.09" cy="27.20" r="2.30" fill="url(#gr)"/><circle cx="454.68" cy="25.50" r="2.30" fill="url(#gr)"/><circle cx="459.26" cy="24.50" r="2.30" fill="url(#gr)"/><circle cx="463.85" cy="22.80" r="2.30" fill="url(#gr)"/><circle cx="468.43" cy="22.30" r="2.30" fill="url(#gr)"/><circle cx="473.01" cy="22.00" r="2.30" fill="url(#gr)"/><circle cx="477.60" cy="21.80" r="2.30" fill="url(#gr)"/><path d="M248.35,168.50 L252.94,166.20 L257.52,161.00 L262.11,152.60 L266.69,135.70 L271.27,121.90 L275.86,115.20 L280.44,98.60 L285.03,88.60 L289.62,86.20 L294.20,85.50 L298.78,79.80 L303.37,72.20 L307.95,67.90 L312.54,69.20 L317.12,69.20 L321.71,72.30 L326.30,71.20 L330.88,69.60 L335.47,68.60 L340.05,67.60 L344.63,64.30 L349.22,63.60 L353.81,63.00 L358.39,62.20 L362.98,59.00 L367.56,56.90 L372.14,56.50 L376.73,55.60 L381.31,57.70 L385.90,61.10 L390.49,59.80 L395.07,62.50 L399.65,64.50 L404.24,66.50 L408.82,75.30 L413.41,79.00 L418.00,84.80 L422.58,90.90 L427.16,95.90 L431.75,101.70 L436.34,104.00 L440.92,105.50 L445.50,106.50 L450.09,107.50 L454.68,109.00 L459.26,112.00 L463.85,118.00 L468.43,128.00 L473.01,140.00 L477.60,150.00" fill="none" stroke="#4a4a4a" stroke-width="1.20"/><circle cx="252.94" cy="166.20" r="2.30" fill="url(#gk)"/><circle cx="257.52" cy="161.00" r="2.30" fill="url(#gk)"/><circle cx="262.11" cy="152.60" r="2.30" fill="url(#gk)"/><circle cx="266.69" cy="135.70" r="2.30" fill="url(#gk)"/><circle cx="271.27" cy="121.90" r="2.30" fill="url(#gk)"/><circle cx="275.86" cy="115.20" r="2.30" fill="url(#gk)"/><circle cx="280.44" cy="98.60" r="2.30" fill="url(#gk)"/><circle cx="285.03" cy="88.60" r="2.30" fill="url(#gk)"/><circle cx="289.62" cy="86.20" r="2.30" fill="url(#gk)"/><circle cx="294.20" cy="85.50" r="2.30" fill="url(#gk)"/><circle cx="298.78" cy="79.80" r="2.30" fill="url(#gk)"/><circle cx="303.37" cy="72.20" r="2.30" fill="url(#gk)"/><circle cx="307.95" cy="67.90" r="2.30" fill="url(#gk)"/><circle cx="312.54" cy="69.20" r="2.30" fill="url(#gk)"/><circle cx="317.12" cy="69.20" r="2.30" fill="url(#gk)"/><circle cx="321.71" cy="72.30" r="2.30" fill="url(#gk)"/><circle cx="326.30" cy="71.20" r="2.30" fill="url(#gk)"/><circle cx="330.88" cy="69.60" r="2.30" fill="url(#gk)"/><circle cx="335.47" cy="68.60" r="2.30" fill="url(#gk)"/><circle cx="340.05" cy="67.60" r="2.30" fill="url(#gk)"/><circle cx="344.63" cy="64.30" r="2.30" fill="url(#gk)"/><circle cx="349.22" cy="63.60" r="2.30" fill="url(#gk)"/><circle cx="353.81" cy="63.00" r="2.30" fill="url(#gk)"/><circle cx="358.39" cy="62.20" r="2.30" fill="url(#gk)"/><circle cx="362.98" cy="59.00" r="2.30" fill="url(#gk)"/><circle cx="367.56" cy="56.90" r="2.30" fill="url(#gk)"/><circle cx="372.14" cy="56.50" r="2.30" fill="url(#gk)"/><circle cx="376.73" cy="55.60" r="2.30" fill="url(#gk)"/><circle cx="381.31" cy="57.70" r="2.30" fill="url(#gk)"/><circle cx="385.90" cy="61.10" r="2.30" fill="url(#gk)"/><circle cx="390.49" cy="59.80" r="2.30" fill="url(#gk)"/><circle cx="395.07" cy="62.50" r="2.30" fill="url(#gk)"/><circle cx="399.65" cy="64.50" r="2.30" fill="url(#gk)"/><circle cx="404.24" cy="66.50" r="2.30" fill="url(#gk)"/><circle cx="408.82" cy="75.30" r="2.30" fill="url(#gk)"/><circle cx="413.41" cy="79.00" r="2.30" fill="url(#gk)"/><circle cx="418.00" cy="84.80" r="2.30" fill="url(#gk)"/><circle cx="422.58" cy="90.90" r="2.30" fill="url(#gk)"/><circle cx="427.16" cy="95.90" r="2.30" fill="url(#gk)"/><circle cx="431.75" cy="101.70" r="2.30" fill="url(#gk)"/><circle cx="436.34" cy="104.00" r="2.30" fill="url(#gk)"/><circle cx="440.92" cy="105.50" r="2.30" fill="url(#gk)"/><circle cx="445.50" cy="106.50" r="2.30" fill="url(#gk)"/><circle cx="450.09" cy="107.50" r="2.30" fill="url(#gk)"/><circle cx="454.68" cy="109.00" r="2.30" fill="url(#gk)"/><circle cx="459.26" cy="112.00" r="2.30" fill="url(#gk)"/><circle cx="463.85" cy="118.00" r="2.30" fill="url(#gk)"/><circle cx="468.43" cy="128.00" r="2.30" fill="url(#gk)"/><circle cx="473.01" cy="140.00" r="2.30" fill="url(#gk)"/><circle cx="477.60" cy="150.00" r="2.30" fill="url(#gk)"/><path d="M248.35,166.00 L252.94,163.00 L257.52,156.90 L262.11,146.30 L266.69,127.90 L271.27,114.10 L275.86,103.30 L280.44,96.00 L285.03,82.90 L289.62,79.80 L294.20,70.80 L298.78,61.40 L303.37,52.20 L307.95,43.80 L312.54,40.80 L317.12,41.20 L321.71,39.00 L326.30,38.50 L330.88,37.90 L335.47,37.50 L340.05,36.90 L344.63,34.50 L349.22,35.60 L353.81,39.60 L358.39,39.00 L362.98,37.60 L367.56,38.40 L372.14,40.40 L376.73,36.90 L381.31,40.30 L385.90,44.80 L390.49,49.40 L395.07,56.70 L399.65,64.60 L404.24,67.30 L408.82,72.10 L413.41,72.40 L418.00,70.90 L422.58,70.90 L427.16,71.50 L431.75,75.30 L436.34,79.80 L440.92,84.30 L445.50,88.50 L450.09,93.50 L454.68,98.50 L459.26,103.00 L463.85,110.00 L468.43,120.00 L473.01,132.00 L477.60,145.00" fill="none" stroke="#e03a3a" stroke-width="1.50"/><circle cx="252.94" cy="163.00" r="2.30" fill="url(#gr)"/><circle cx="257.52" cy="156.90" r="2.30" fill="url(#gr)"/><circle cx="262.11" cy="146.30" r="2.30" fill="url(#gr)"/><circle cx="266.69" cy="127.90" r="2.30" fill="url(#gr)"/><circle cx="271.27" cy="114.10" r="2.30" fill="url(#gr)"/><circle cx="275.86" cy="103.30" r="2.30" fill="url(#gr)"/><circle cx="280.44" cy="96.00" r="2.30" fill="url(#gr)"/><circle cx="285.03" cy="82.90" r="2.30" fill="url(#gr)"/><circle cx="289.62" cy="79.80" r="2.30" fill="url(#gr)"/><circle cx="294.20" cy="70.80" r="2.30" fill="url(#gr)"/><circle cx="298.78" cy="61.40" r="2.30" fill="url(#gr)"/><circle cx="303.37" cy="52.20" r="2.30" fill="url(#gr)"/><circle cx="307.95" cy="43.80" r="2.30" fill="url(#gr)"/><circle cx="312.54" cy="40.80" r="2.30" fill="url(#gr)"/><circle cx="317.12" cy="41.20" r="2.30" fill="url(#gr)"/><circle cx="321.71" cy="39.00" r="2.30" fill="url(#gr)"/><circle cx="326.30" cy="38.50" r="2.30" fill="url(#gr)"/><circle cx="330.88" cy="37.90" r="2.30" fill="url(#gr)"/><circle cx="335.47" cy="37.50" r="2.30" fill="url(#gr)"/><circle cx="340.05" cy="36.90" r="2.30" fill="url(#gr)"/><circle cx="344.63" cy="34.50" r="2.30" fill="url(#gr)"/><circle cx="349.22" cy="35.60" r="2.30" fill="url(#gr)"/><circle cx="353.81" cy="39.60" r="2.30" fill="url(#gr)"/><circle cx="358.39" cy="39.00" r="2.30" fill="url(#gr)"/><circle cx="362.98" cy="37.60" r="2.30" fill="url(#gr)"/><circle cx="367.56" cy="38.40" r="2.30" fill="url(#gr)"/><circle cx="372.14" cy="40.40" r="2.30" fill="url(#gr)"/><circle cx="376.73" cy="36.90" r="2.30" fill="url(#gr)"/><circle cx="381.31" cy="40.30" r="2.30" fill="url(#gr)"/><circle cx="385.90" cy="44.80" r="2.30" fill="url(#gr)"/><circle cx="390.49" cy="49.40" r="2.30" fill="url(#gr)"/><circle cx="395.07" cy="56.70" r="2.30" fill="url(#gr)"/><circle cx="399.65" cy="64.60" r="2.30" fill="url(#gr)"/><circle cx="404.24" cy="67.30" r="2.30" fill="url(#gr)"/><circle cx="408.82" cy="72.10" r="2.30" fill="url(#gr)"/><circle cx="413.41" cy="72.40" r="2.30" fill="url(#gr)"/><circle cx="418.00" cy="70.90" r="2.30" fill="url(#gr)"/><circle cx="422.58" cy="70.90" r="2.30" fill="url(#gr)"/><circle cx="427.16" cy="71.50" r="2.30" fill="url(#gr)"/><circle cx="431.75" cy="75.30" r="2.30" fill="url(#gr)"/><circle cx="436.34" cy="79.80" r="2.30" fill="url(#gr)"/><circle cx="440.92" cy="84.30" r="2.30" fill="url(#gr)"/><circle cx="445.50" cy="88.50" r="2.30" fill="url(#gr)"/><circle cx="450.09" cy="93.50" r="2.30" fill="url(#gr)"/><circle cx="454.68" cy="98.50" r="2.30" fill="url(#gr)"/><circle cx="459.26" cy="103.00" r="2.30" fill="url(#gr)"/><circle cx="463.85" cy="110.00" r="2.30" fill="url(#gr)"/><circle cx="468.43" cy="120.00" r="2.30" fill="url(#gr)"/><circle cx="473.01" cy="132.00" r="2.30" fill="url(#gr)"/><circle cx="477.60" cy="145.00" r="2.30" fill="url(#gr)"/></g><text x="241.6" y="195.18" font-size="12.6" text-anchor="end" style="fill:#3a3a3a;stroke:none">0</text><text x="241.6" y="156.74" font-size="12.6" text-anchor="end" style="fill:#3a3a3a;stroke:none">20</text><text x="241.6" y="118.30" font-size="12.6" text-anchor="end" style="fill:#3a3a3a;stroke:none">40</text><text x="241.6" y="79.86" font-size="12.6" text-anchor="end" style="fill:#3a3a3a;stroke:none">60</text><text x="241.6" y="41.42" font-size="12.6" text-anchor="end" style="fill:#3a3a3a;stroke:none">80</text><text x="248.35" y="226.7" font-size="12.6" text-anchor="middle">300</text><text x="294.20" y="226.7" font-size="12.6" text-anchor="middle">400</text><text x="340.05" y="226.7" font-size="12.6" text-anchor="middle">500</text><text x="385.90" y="226.7" font-size="12.6" text-anchor="middle">600</text><text x="431.75" y="226.7" font-size="12.6" text-anchor="middle">700</text><text x="367.9" y="247.0" font-size="12.85" text-anchor="middle">Wavelength (nm)</text><text transform="translate(220.6,114.0) rotate(-90)" font-size="12.6" text-anchor="middle" style="stroke-width:0.05px">EQE (%)</text><text x="206.7" y="14.2" font-size="16">(b)</text><path d="M375.8,179.1 H404.7" stroke="#333" stroke-width="1.3"/><circle cx="390.2" cy="179.1" r="1.6" fill="url(#gk)"/><text x="407.3" y="183.3" font-size="12.7">PEA</text><path d="M375.8,195.0 H404.7" stroke="#d92b2b" stroke-width="1.3"/><circle cx="390.2" cy="195.0" r="1.6" fill="url(#gr)"/><text x="407.3" y="199.2" font-size="12.7">PEA+GA</text></g><g stroke="#000" fill="none" stroke-linecap="square"><path d="M-5,18.35 H201.20 V210.95 H-5" stroke-width="1.70"/><path d="M460,18.35 H247.57" stroke-width="1.70" stroke-linecap="butt"/><path d="M460,210.95 H247.57" stroke-width="1.70" stroke-linecap="butt"/><path d="M248.35,17.50 V211.80" stroke-width="1.55" stroke="#1c1c1c" stroke-linecap="butt"/></g><path d="M-0.80,210.8 v2.2 M17.50,210.8 v3.8 M35.80,210.8 v2.2 M54.10,210.8 v3.8 M72.40,210.8 v2.2 M90.70,210.8 v3.8 M109.00,210.8 v2.2 M127.30,210.8 v3.8 M145.60,210.8 v2.2 M163.90,210.8 v3.8 M182.20,210.8 v2.2 M200.50,210.8 v3.8" stroke="#000" stroke-width="1.60"/><path d="M248.3,191.18 h-3.8 M248.3,171.96 h-2.2 M248.3,152.74 h-3.8 M248.3,133.52 h-2.2 M248.3,114.30 h-3.8 M248.3,95.08 h-2.2 M248.3,75.86 h-3.8 M248.3,56.64 h-2.2 M248.3,37.42 h-3.8 M271.27,210.8 v2.2 M294.20,210.8 v3.8 M317.12,210.8 v2.2 M340.05,210.8 v3.8 M362.98,210.8 v2.2 M385.90,210.8 v3.8 M408.82,210.8 v2.2 M431.75,210.8 v3.8" stroke="#000" stroke-width="1.60"/><path d="M248.35,210.8 v3.8" stroke="#000" stroke-width="1.60"/></svg></body></html>
